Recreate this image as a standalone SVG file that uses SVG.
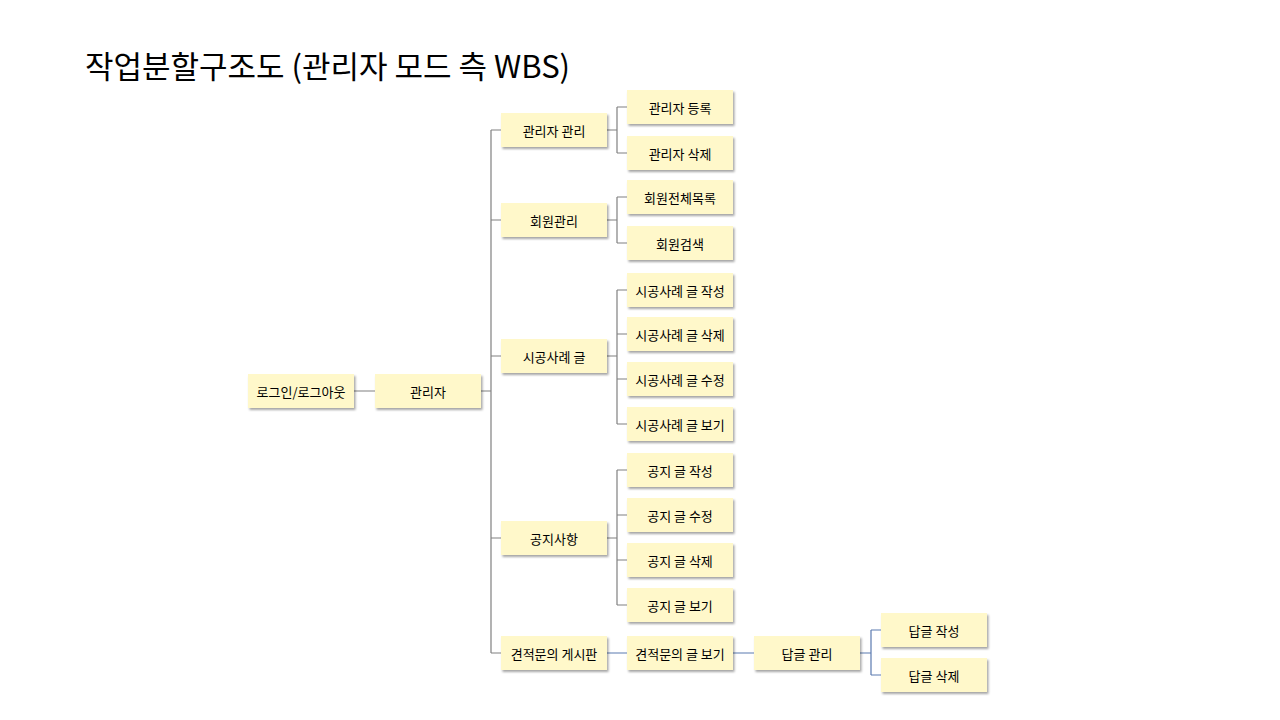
<svg xmlns="http://www.w3.org/2000/svg" width="1280" height="720" viewBox="0 0 1280 720">
<style>
.b{fill:#FFF8CA;filter:url(#sh)}
.t{font-family:"Noto Sans CJK KR","Noto Sans",sans-serif;font-size:13px;fill:#000;text-anchor:middle;dominant-baseline:central}
.c{fill:none;stroke:#808080;stroke-width:1.2}
.d{fill:none;stroke:#5A7AB0;stroke-width:1.2}
</style>
<defs><filter id="sh" x="-10%" y="-20%" width="130%" height="160%"><feDropShadow dx="1.5" dy="2" stdDeviation="1.2" flood-color="#000" flood-opacity="0.35"/></filter></defs>
<rect width="1280" height="720" fill="#fff"/>
<text x="85" y="78" font-family="Noto Sans CJK KR,Noto Sans,sans-serif" font-size="31">작업분할구조도 (관리자 모드 측 WBS)</text>
<g id="connectors">
<path class="c" d="M354 391H375M481 391H491M491 130V653M491 130H501M491 220H501M491 356H501M491 538H501M491 653H501"/>
<path class="c" d="M607 130H617M617 107V153M617 107H627M617 153H627"/>
<path class="c" d="M607 220H617M617 197V243M617 197H627M617 243H627"/>
<path class="c" d="M607 356H617M617 290V424M617 290H627M617 334H627M617 379H627M617 424H627"/>
<path class="c" d="M607 538H617M617 470V605M617 470H627M617 515H627M617 560H627M617 605H627"/>
<path class="d" d="M607 653H627M733 653H754M860 653H871M871 630V675M871 630H881M871 675H881"/>
</g>
<g id="n1"><rect class="b" x="248" y="374" width="106" height="34"/><text class="t" x="301" y="391">로그인/로그아웃</text></g>
<g id="n2"><rect class="b" x="375" y="374" width="106" height="34"/><text class="t" x="428" y="391">관리자</text></g>
<g id="a1"><rect class="b" x="501" y="113" width="106" height="34"/><text class="t" x="554" y="130">관리자 관리</text></g>
<g id="a2"><rect class="b" x="501" y="203" width="106" height="34"/><text class="t" x="554" y="220">회원관리</text></g>
<g id="a3"><rect class="b" x="501" y="339" width="106" height="34"/><text class="t" x="554" y="356">시공사례 글</text></g>
<g id="a4"><rect class="b" x="501" y="521" width="106" height="34"/><text class="t" x="554" y="538">공지사항</text></g>
<g id="a5"><rect class="b" x="501" y="636" width="106" height="34"/><text class="t" x="554" y="653">견적문의 게시판</text></g>
<g id="b1"><rect class="b" x="627" y="90" width="106" height="34"/><text class="t" x="680" y="107">관리자 등록</text></g>
<g id="b2"><rect class="b" x="627" y="136" width="106" height="34"/><text class="t" x="680" y="153">관리자 삭제</text></g>
<g id="b3"><rect class="b" x="627" y="180" width="106" height="34"/><text class="t" x="680" y="197">회원전체목록</text></g>
<g id="b4"><rect class="b" x="627" y="226" width="106" height="34"/><text class="t" x="680" y="243">회원검색</text></g>
<g id="b5"><rect class="b" x="627" y="273" width="106" height="34"/><text class="t" x="680" y="290">시공사례 글 작성</text></g>
<g id="b6"><rect class="b" x="627" y="317" width="106" height="34"/><text class="t" x="680" y="334">시공사례 글 삭제</text></g>
<g id="b7"><rect class="b" x="627" y="362" width="106" height="34"/><text class="t" x="680" y="379">시공사례 글 수정</text></g>
<g id="b8"><rect class="b" x="627" y="407" width="106" height="34"/><text class="t" x="680" y="424">시공사례 글 보기</text></g>
<g id="b9"><rect class="b" x="627" y="453" width="106" height="34"/><text class="t" x="680" y="470">공지 글 작성</text></g>
<g id="b10"><rect class="b" x="627" y="498" width="106" height="34"/><text class="t" x="680" y="515">공지 글 수정</text></g>
<g id="b11"><rect class="b" x="627" y="543" width="106" height="34"/><text class="t" x="680" y="560">공지 글 삭제</text></g>
<g id="b12"><rect class="b" x="627" y="588" width="106" height="34"/><text class="t" x="680" y="605">공지 글 보기</text></g>
<g id="b13"><rect class="b" x="627" y="636" width="106" height="34"/><text class="t" x="680" y="653">견적문의 글 보기</text></g>
<g id="c1"><rect class="b" x="754" y="636" width="106" height="34"/><text class="t" x="807" y="653">답글 관리</text></g>
<g id="d1"><rect class="b" x="881" y="613" width="106" height="34"/><text class="t" x="934" y="630">답글 작성</text></g>
<g id="d2"><rect class="b" x="881" y="658" width="106" height="34"/><text class="t" x="934" y="675">답글 삭제</text></g>
</svg>
